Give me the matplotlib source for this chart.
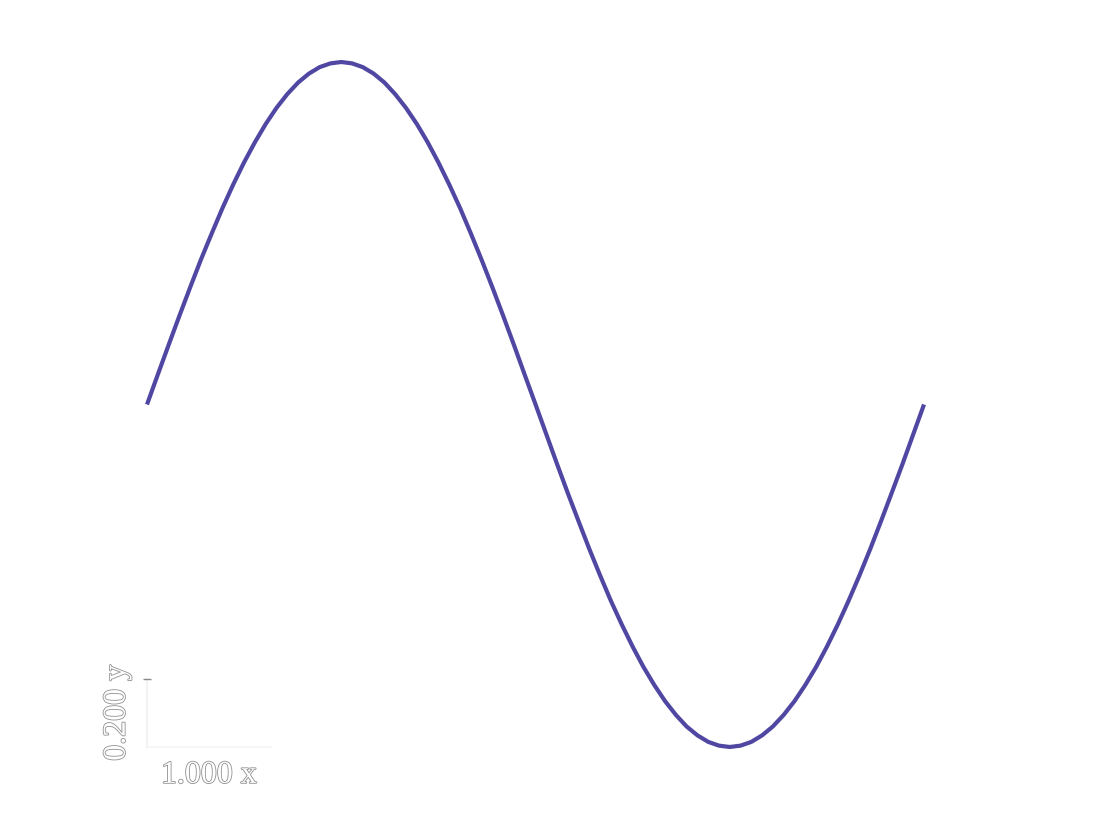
import matplotlib
matplotlib.use("Agg")
import matplotlib.pyplot as plt
import matplotlib.patheffects as pe

# curve (x and y in data units)
x_vals = [0.000, 0.087, 0.175, 0.262, 0.349, 0.436, 0.524, 0.611, 0.698,
          0.785, 0.873, 0.960, 1.047, 1.134, 1.222, 1.309, 1.396, 1.484,
          1.571, 1.658, 1.745, 1.833, 1.920, 2.007, 2.094, 2.182, 2.269,
          2.356, 2.443, 2.531, 2.618, 2.705, 2.793, 2.880, 2.967, 3.054,
          3.142, 3.229, 3.316, 3.403, 3.491, 3.578, 3.665, 3.752, 3.840,
          3.927, 4.014, 4.102, 4.189, 4.276, 4.363, 4.451, 4.538, 4.625,
          4.712, 4.800, 4.887, 4.974, 5.061, 5.149, 5.236, 5.323, 5.411,
          5.498, 5.585, 5.672, 5.760, 5.847, 5.934, 6.021, 6.109, 6.196,
          6.283]
y_vals = [0.000, 0.087, 0.174, 0.259, 0.342, 0.423, 0.500, 0.574, 0.643,
          0.707, 0.766, 0.819, 0.866, 0.906, 0.940, 0.966, 0.985, 0.996,
          1.000, 0.996, 0.985, 0.966, 0.940, 0.906, 0.866, 0.819, 0.766,
          0.707, 0.643, 0.574, 0.500, 0.423, 0.342, 0.259, 0.174, 0.087,
          0.000, -0.087, -0.174, -0.259, -0.342, -0.423, -0.500, -0.574, -0.643,
          -0.707, -0.766, -0.819, -0.866, -0.906, -0.940, -0.966, -0.985, -0.996,
          -1.000, -0.996, -0.985, -0.966, -0.940, -0.906, -0.866, -0.819, -0.766,
          -0.707, -0.643, -0.574, -0.500, -0.423, -0.342, -0.259, -0.174, -0.087,
          0.000]

# scale bars
xbar_len = 1.0
ybar_len = 0.2
xbar_label = "1.000 x"
ybar_label = "0.200 y"

fig = plt.figure(figsize=(11.2, 8.4), dpi=100)
ax = fig.add_axes([147 / 1120, 1 - 747 / 840, (924 - 147) / 1120, (747 - 62) / 840])
ax.set_xlim(0, x_vals[-1])
ax.set_ylim(-1, 1)
ax.axis("off")

ax.plot(x_vals, y_vals, color="#5047a2", lw=3.0, clip_on=False,
        solid_capstyle="butt", solid_joinstyle="round")

x0, y0 = 0.0, -1.0
ax.plot([x0, x0 + xbar_len], [y0, y0], color="#f7f7f7", lw=1.5, clip_on=False)
ax.plot([x0, x0], [y0, y0 + ybar_len], color="#f3f3f3", lw=1.5, clip_on=False)
ax.plot([x0], [y0 + ybar_len], marker="_", color="#8a8a8a", ms=6, mew=1.0,
        clip_on=False)

outline = [pe.withStroke(linewidth=1.2, foreground="#909090")]
ax.annotate(xbar_label, xy=(x0 + xbar_len / 2, y0), xytext=(0, -10),
            textcoords="offset points", ha="center", va="top",
            fontsize=23, family="Liberation Serif", color="white",
            path_effects=outline, annotation_clip=False)
ax.annotate(ybar_label, xy=(x0, y0 + ybar_len / 2), xytext=(-11, 0),
            textcoords="offset points", ha="right", va="center",
            rotation=90, fontsize=23, family="Liberation Serif",
            color="white", path_effects=outline, annotation_clip=False)

fig.savefig("out.png", dpi=100)
